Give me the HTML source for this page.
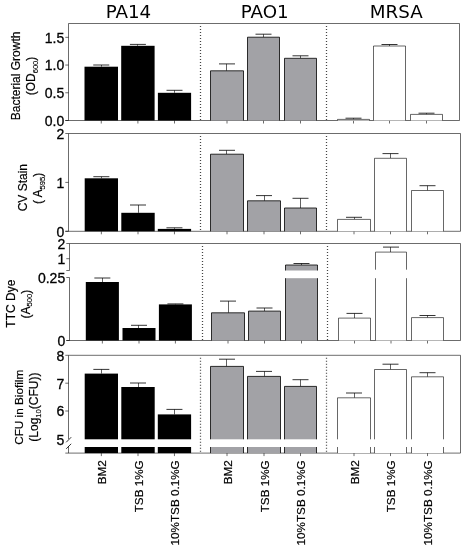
<!DOCTYPE html>
<html><head><meta charset="utf-8"><title>Figure</title>
<style>
html,body{margin:0;padding:0;background:#fff;}
body{width:468px;height:550px;overflow:hidden;font-family:"Liberation Sans",Arial,sans-serif;}
svg{display:block}
text{fill:#000}
</style></head><body>
<svg width="468" height="550" viewBox="0 0 468 550">
<rect width="468" height="550" fill="#fff"/>
<line x1="68.5" y1="23.5" x2="459.5" y2="23.5" stroke="#000" stroke-width="0.58" />
<line x1="459.5" y1="23.5" x2="459.5" y2="120.5" stroke="#000" stroke-width="0.58" />
<line x1="65.3" y1="120.5" x2="459.5" y2="120.5" stroke="#000" stroke-width="0.58" />
<line x1="68.5" y1="23.5" x2="68.5" y2="120.5" stroke="#000" stroke-width="0.58" />
<line x1="200.5" y1="26.0" x2="200.5" y2="120.5" stroke="#444" stroke-width="1.25" stroke-dasharray="1 2"/>
<line x1="326.5" y1="26.0" x2="326.5" y2="120.5" stroke="#444" stroke-width="1.25" stroke-dasharray="1 2"/>
<line x1="101.25" y1="120.5" x2="101.25" y2="123.5" stroke="#000" stroke-width="0.58" />
<line x1="137.9" y1="120.5" x2="137.9" y2="123.5" stroke="#000" stroke-width="0.58" />
<line x1="174.5" y1="120.5" x2="174.5" y2="123.5" stroke="#000" stroke-width="0.58" />
<line x1="227.0" y1="120.5" x2="227.0" y2="123.5" stroke="#000" stroke-width="0.58" />
<line x1="263.5" y1="120.5" x2="263.5" y2="123.5" stroke="#000" stroke-width="0.58" />
<line x1="300.5" y1="120.5" x2="300.5" y2="123.5" stroke="#000" stroke-width="0.58" />
<line x1="353.5" y1="120.5" x2="353.5" y2="123.5" stroke="#000" stroke-width="0.58" />
<line x1="389.5" y1="120.5" x2="389.5" y2="123.5" stroke="#000" stroke-width="0.58" />
<line x1="426.5" y1="120.5" x2="426.5" y2="123.5" stroke="#000" stroke-width="0.58" />
<text x="64.2" y="42.74" font-size="14" text-anchor="end" font-family="'Liberation Sans', Arial, sans-serif" stroke="#000" stroke-width="0.3">1.5</text>
<line x1="65.3" y1="37.34" x2="68.5" y2="37.34" stroke="#000" stroke-width="0.58" />
<text x="64.2" y="70.46000000000001" font-size="14" text-anchor="end" font-family="'Liberation Sans', Arial, sans-serif" stroke="#000" stroke-width="0.3">1.0</text>
<line x1="65.3" y1="65.06" x2="68.5" y2="65.06" stroke="#000" stroke-width="0.58" />
<text x="64.2" y="98.18" font-size="14" text-anchor="end" font-family="'Liberation Sans', Arial, sans-serif" stroke="#000" stroke-width="0.3">0.5</text>
<line x1="65.3" y1="92.78" x2="68.5" y2="92.78" stroke="#000" stroke-width="0.58" />
<text x="64.2" y="125.9" font-size="14" text-anchor="end" font-family="'Liberation Sans', Arial, sans-serif" stroke="#000" stroke-width="0.3">0.0</text>
<line x1="65.3" y1="120.5" x2="68.5" y2="120.5" stroke="#000" stroke-width="0.58" />
<line x1="101.5" y1="65" x2="101.5" y2="66.7" stroke="#000" stroke-width="0.62" />
<line x1="93.25" y1="65" x2="109.25" y2="65" stroke="#000" stroke-width="0.8" />
<rect x="84.5" y="66.7" width="33.49999999999999" height="53.8" fill="#000"/>
<line x1="137.5" y1="44.4" x2="137.5" y2="45.8" stroke="#000" stroke-width="0.62" />
<line x1="129.9" y1="44.4" x2="145.9" y2="44.4" stroke="#000" stroke-width="0.8" />
<rect x="121.2" y="45.8" width="33.4" height="74.7" fill="#000"/>
<line x1="174.5" y1="90.3" x2="174.5" y2="92.8" stroke="#000" stroke-width="0.62" />
<line x1="166.5" y1="90.3" x2="182.5" y2="90.3" stroke="#000" stroke-width="0.8" />
<rect x="157.9" y="92.8" width="33.20000000000001" height="27.700000000000003" fill="#000"/>
<line x1="226.5" y1="63.9" x2="226.5" y2="70.8" stroke="#000" stroke-width="0.62" />
<line x1="219.0" y1="63.9" x2="235.0" y2="63.9" stroke="#000" stroke-width="0.8" />
<rect x="210.5" y="70.8" width="33.0" height="49.7" fill="#a2a2a6"/>
<path d="M210.5,120.5L210.5,70.8L243.5,70.8L243.5,120.5" fill="none" stroke="#000" stroke-width="0.8"/>
<line x1="263.5" y1="34.2" x2="263.5" y2="37.2" stroke="#000" stroke-width="0.62" />
<line x1="255.5" y1="34.2" x2="271.5" y2="34.2" stroke="#000" stroke-width="0.8" />
<rect x="247.5" y="37.2" width="32.0" height="83.3" fill="#a2a2a6"/>
<path d="M247.5,120.5L247.5,37.2L279.5,37.2L279.5,120.5" fill="none" stroke="#000" stroke-width="0.8"/>
<line x1="300.5" y1="55.8" x2="300.5" y2="58.3" stroke="#000" stroke-width="0.62" />
<line x1="292.5" y1="55.8" x2="308.5" y2="55.8" stroke="#000" stroke-width="0.8" />
<rect x="284.5" y="58.3" width="32.0" height="62.2" fill="#a2a2a6"/>
<path d="M284.5,120.5L284.5,58.3L316.5,58.3L316.5,120.5" fill="none" stroke="#000" stroke-width="0.8"/>
<line x1="353.5" y1="118.2" x2="353.5" y2="119.4" stroke="#000" stroke-width="0.62" />
<line x1="345.5" y1="118.2" x2="361.5" y2="118.2" stroke="#000" stroke-width="0.8" />
<rect x="337.5" y="119.4" width="32.0" height="1.0999999999999943" fill="#fff"/>
<path d="M337.5,120.5L337.5,119.4L369.5,119.4L369.5,120.5" fill="none" stroke="#000" stroke-width="0.6"/>
<line x1="389.5" y1="44.5" x2="389.5" y2="46" stroke="#000" stroke-width="0.62" />
<line x1="381.5" y1="44.5" x2="397.5" y2="44.5" stroke="#000" stroke-width="0.8" />
<rect x="373.5" y="46" width="32.0" height="74.5" fill="#fff"/>
<path d="M373.5,120.5L373.5,46L405.5,46L405.5,120.5" fill="none" stroke="#000" stroke-width="0.6"/>
<line x1="426.5" y1="113.2" x2="426.5" y2="114.4" stroke="#000" stroke-width="0.62" />
<line x1="418.5" y1="113.2" x2="434.5" y2="113.2" stroke="#000" stroke-width="0.8" />
<rect x="410.5" y="114.4" width="32.0" height="6.099999999999994" fill="#fff"/>
<path d="M410.5,120.5L410.5,114.4L442.5,114.4L442.5,120.5" fill="none" stroke="#000" stroke-width="0.6"/>
<line x1="68.5" y1="133.5" x2="460.5" y2="133.5" stroke="#000" stroke-width="0.58" />
<line x1="460.5" y1="133.5" x2="460.5" y2="231.3" stroke="#000" stroke-width="0.58" />
<line x1="65.3" y1="231.3" x2="460.5" y2="231.3" stroke="#000" stroke-width="0.58" />
<line x1="68.5" y1="133.5" x2="68.5" y2="231.3" stroke="#000" stroke-width="0.58" />
<line x1="200.5" y1="136.0" x2="200.5" y2="231.3" stroke="#444" stroke-width="1.25" stroke-dasharray="1 2"/>
<line x1="326.5" y1="136.0" x2="326.5" y2="231.3" stroke="#444" stroke-width="1.25" stroke-dasharray="1 2"/>
<line x1="101.35" y1="231.3" x2="101.35" y2="234.3" stroke="#000" stroke-width="0.58" />
<line x1="138.0" y1="231.3" x2="138.0" y2="234.3" stroke="#000" stroke-width="0.58" />
<line x1="174.45" y1="231.3" x2="174.45" y2="234.3" stroke="#000" stroke-width="0.58" />
<line x1="227.0" y1="231.3" x2="227.0" y2="234.3" stroke="#000" stroke-width="0.58" />
<line x1="264.0" y1="231.3" x2="264.0" y2="234.3" stroke="#000" stroke-width="0.58" />
<line x1="300.5" y1="231.3" x2="300.5" y2="234.3" stroke="#000" stroke-width="0.58" />
<line x1="354.0" y1="231.3" x2="354.0" y2="234.3" stroke="#000" stroke-width="0.58" />
<line x1="390.5" y1="231.3" x2="390.5" y2="234.3" stroke="#000" stroke-width="0.58" />
<line x1="427.5" y1="231.3" x2="427.5" y2="234.3" stroke="#000" stroke-width="0.58" />
<text x="64.2" y="138.9" font-size="14" text-anchor="end" font-family="'Liberation Sans', Arial, sans-serif" stroke="#000" stroke-width="0.3">2</text>
<line x1="65.3" y1="133.5" x2="68.5" y2="133.5" stroke="#000" stroke-width="0.58" />
<text x="64.2" y="187.8" font-size="14" text-anchor="end" font-family="'Liberation Sans', Arial, sans-serif" stroke="#000" stroke-width="0.3">1</text>
<line x1="65.3" y1="182.4" x2="68.5" y2="182.4" stroke="#000" stroke-width="0.58" />
<text x="64.2" y="236.70000000000002" font-size="14" text-anchor="end" font-family="'Liberation Sans', Arial, sans-serif" stroke="#000" stroke-width="0.3">0</text>
<line x1="65.3" y1="231.3" x2="68.5" y2="231.3" stroke="#000" stroke-width="0.58" />
<line x1="101.5" y1="176.7" x2="101.5" y2="178.3" stroke="#000" stroke-width="0.62" />
<line x1="93.35" y1="176.7" x2="109.35" y2="176.7" stroke="#000" stroke-width="0.8" />
<rect x="84.7" y="178.3" width="33.29999999999999" height="53.0" fill="#000"/>
<line x1="138.5" y1="205" x2="138.5" y2="212.8" stroke="#000" stroke-width="0.62" />
<line x1="130.0" y1="205" x2="146.0" y2="205" stroke="#000" stroke-width="0.8" />
<rect x="121.3" y="212.8" width="33.4" height="18.5" fill="#000"/>
<line x1="174.5" y1="227.8" x2="174.5" y2="228.9" stroke="#000" stroke-width="0.62" />
<line x1="166.45" y1="227.8" x2="182.45" y2="227.8" stroke="#000" stroke-width="0.8" />
<rect x="157.8" y="228.9" width="33.300000000000004" height="2.4000000000000057" fill="#000"/>
<line x1="226.5" y1="150.3" x2="226.5" y2="154.2" stroke="#000" stroke-width="0.62" />
<line x1="219.0" y1="150.3" x2="235.0" y2="150.3" stroke="#000" stroke-width="0.8" />
<rect x="210.5" y="154.2" width="33.0" height="77.10000000000002" fill="#a2a2a6"/>
<path d="M210.5,231.3L210.5,154.2L243.5,154.2L243.5,231.3" fill="none" stroke="#000" stroke-width="0.8"/>
<line x1="264.5" y1="195.6" x2="264.5" y2="200.8" stroke="#000" stroke-width="0.62" />
<line x1="256.0" y1="195.6" x2="272.0" y2="195.6" stroke="#000" stroke-width="0.8" />
<rect x="247.5" y="200.8" width="33.0" height="30.5" fill="#a2a2a6"/>
<path d="M247.5,231.3L247.5,200.8L280.5,200.8L280.5,231.3" fill="none" stroke="#000" stroke-width="0.8"/>
<line x1="300.5" y1="198.3" x2="300.5" y2="208" stroke="#000" stroke-width="0.62" />
<line x1="292.5" y1="198.3" x2="308.5" y2="198.3" stroke="#000" stroke-width="0.8" />
<rect x="284.5" y="208" width="32.0" height="23.30000000000001" fill="#a2a2a6"/>
<path d="M284.5,231.3L284.5,208L316.5,208L316.5,231.3" fill="none" stroke="#000" stroke-width="0.8"/>
<line x1="354.5" y1="217.3" x2="354.5" y2="219.4" stroke="#000" stroke-width="0.62" />
<line x1="346.0" y1="217.3" x2="362.0" y2="217.3" stroke="#000" stroke-width="0.8" />
<rect x="337.5" y="219.4" width="33.0" height="11.900000000000006" fill="#fff"/>
<path d="M337.5,231.3L337.5,219.4L370.5,219.4L370.5,231.3" fill="none" stroke="#000" stroke-width="0.6"/>
<line x1="390.5" y1="153.6" x2="390.5" y2="158.3" stroke="#000" stroke-width="0.62" />
<line x1="382.5" y1="153.6" x2="398.5" y2="153.6" stroke="#000" stroke-width="0.8" />
<rect x="374.5" y="158.3" width="32.0" height="73.0" fill="#fff"/>
<path d="M374.5,231.3L374.5,158.3L406.5,158.3L406.5,231.3" fill="none" stroke="#000" stroke-width="0.6"/>
<line x1="427.5" y1="185.7" x2="427.5" y2="190.5" stroke="#000" stroke-width="0.62" />
<line x1="419.5" y1="185.7" x2="435.5" y2="185.7" stroke="#000" stroke-width="0.8" />
<rect x="411.5" y="190.5" width="32.0" height="40.80000000000001" fill="#fff"/>
<path d="M411.5,231.3L411.5,190.5L443.5,190.5L443.5,231.3" fill="none" stroke="#000" stroke-width="0.6"/>
<line x1="69.5" y1="243.5" x2="460.5" y2="243.5" stroke="#000" stroke-width="0.58" />
<line x1="460.5" y1="243.5" x2="460.5" y2="340.5" stroke="#000" stroke-width="0.58" />
<line x1="66.3" y1="340.5" x2="460.5" y2="340.5" stroke="#000" stroke-width="0.58" />
<line x1="69.5" y1="243.5" x2="69.5" y2="270.5" stroke="#000" stroke-width="0.58" />
<line x1="69.5" y1="277.5" x2="69.5" y2="340.5" stroke="#000" stroke-width="0.58" />
<line x1="202.5" y1="246.0" x2="202.5" y2="340.5" stroke="#444" stroke-width="1.25" stroke-dasharray="1 2"/>
<line x1="327.5" y1="246.0" x2="327.5" y2="340.5" stroke="#444" stroke-width="1.25" stroke-dasharray="1 2"/>
<line x1="102.35" y1="340.5" x2="102.35" y2="343.5" stroke="#000" stroke-width="0.58" />
<line x1="139.0" y1="340.5" x2="139.0" y2="343.5" stroke="#000" stroke-width="0.58" />
<line x1="175.39999999999998" y1="340.5" x2="175.39999999999998" y2="343.5" stroke="#000" stroke-width="0.58" />
<line x1="228.0" y1="340.5" x2="228.0" y2="343.5" stroke="#000" stroke-width="0.58" />
<line x1="264.5" y1="340.5" x2="264.5" y2="343.5" stroke="#000" stroke-width="0.58" />
<line x1="301.5" y1="340.5" x2="301.5" y2="343.5" stroke="#000" stroke-width="0.58" />
<line x1="354.5" y1="340.5" x2="354.5" y2="343.5" stroke="#000" stroke-width="0.58" />
<line x1="391.0" y1="340.5" x2="391.0" y2="343.5" stroke="#000" stroke-width="0.58" />
<line x1="427.5" y1="340.5" x2="427.5" y2="343.5" stroke="#000" stroke-width="0.58" />
<text x="65.2" y="248.9" font-size="14" text-anchor="end" font-family="'Liberation Sans', Arial, sans-serif" stroke="#000" stroke-width="0.3">2</text>
<line x1="66.3" y1="243.5" x2="69.5" y2="243.5" stroke="#000" stroke-width="0.58" />
<text x="65.2" y="264.09999999999997" font-size="14" text-anchor="end" font-family="'Liberation Sans', Arial, sans-serif" stroke="#000" stroke-width="0.3">1</text>
<line x1="66.3" y1="258.7" x2="69.5" y2="258.7" stroke="#000" stroke-width="0.58" />
<line x1="66.3" y1="270.5" x2="69.5" y2="270.5" stroke="#000" stroke-width="0.58" />
<text x="65.2" y="282.9" font-size="14" text-anchor="end" font-family="'Liberation Sans', Arial, sans-serif" stroke="#000" stroke-width="0.3">0.25</text>
<line x1="66.3" y1="277.5" x2="69.5" y2="277.5" stroke="#000" stroke-width="0.58" />
<text x="65.2" y="345.9" font-size="14" text-anchor="end" font-family="'Liberation Sans', Arial, sans-serif" stroke="#000" stroke-width="0.3">0</text>
<line x1="66.3" y1="340.5" x2="69.5" y2="340.5" stroke="#000" stroke-width="0.58" />
<line x1="102.5" y1="278" x2="102.5" y2="282" stroke="#000" stroke-width="0.62" />
<line x1="94.35" y1="278" x2="110.35" y2="278" stroke="#000" stroke-width="0.8" />
<rect x="85.8" y="282" width="33.1" height="58.5" fill="#000"/>
<line x1="138.5" y1="325.3" x2="138.5" y2="328" stroke="#000" stroke-width="0.62" />
<line x1="131.0" y1="325.3" x2="147.0" y2="325.3" stroke="#000" stroke-width="0.8" />
<rect x="122.5" y="328" width="33.00000000000001" height="12.5" fill="#000"/>
<line x1="175.5" y1="303.9" x2="175.5" y2="304.4" stroke="#000" stroke-width="0.62" />
<line x1="167.39999999999998" y1="303.9" x2="183.39999999999998" y2="303.9" stroke="#000" stroke-width="0.8" />
<rect x="158.9" y="304.4" width="32.99999999999999" height="36.10000000000002" fill="#000"/>
<line x1="228.5" y1="301.1" x2="228.5" y2="312.8" stroke="#000" stroke-width="0.62" />
<line x1="220.0" y1="301.1" x2="236.0" y2="301.1" stroke="#000" stroke-width="0.8" />
<rect x="211.5" y="312.8" width="33.0" height="27.69999999999999" fill="#a2a2a6"/>
<path d="M211.5,340.5L211.5,312.8L244.5,312.8L244.5,340.5" fill="none" stroke="#000" stroke-width="0.8"/>
<line x1="264.5" y1="308" x2="264.5" y2="311.1" stroke="#000" stroke-width="0.62" />
<line x1="256.5" y1="308" x2="272.5" y2="308" stroke="#000" stroke-width="0.8" />
<rect x="248.5" y="311.1" width="32.0" height="29.399999999999977" fill="#a2a2a6"/>
<path d="M248.5,340.5L248.5,311.1L280.5,311.1L280.5,340.5" fill="none" stroke="#000" stroke-width="0.8"/>
<line x1="354.5" y1="313.4" x2="354.5" y2="318.1" stroke="#000" stroke-width="0.62" />
<line x1="346.5" y1="313.4" x2="362.5" y2="313.4" stroke="#000" stroke-width="0.8" />
<rect x="338.5" y="318.1" width="32.0" height="22.399999999999977" fill="#fff"/>
<path d="M338.5,340.5L338.5,318.1L370.5,318.1L370.5,340.5" fill="none" stroke="#000" stroke-width="0.6"/>
<line x1="427.5" y1="315.5" x2="427.5" y2="317.6" stroke="#000" stroke-width="0.62" />
<line x1="419.5" y1="315.5" x2="435.5" y2="315.5" stroke="#000" stroke-width="0.8" />
<rect x="411.5" y="317.6" width="32.0" height="22.899999999999977" fill="#fff"/>
<path d="M411.5,340.5L411.5,317.6L443.5,317.6L443.5,340.5" fill="none" stroke="#000" stroke-width="0.6"/>
<rect x="285.5" y="278.2" width="32.0" height="62.30000000000001" fill="#a2a2a6"/>
<path d="M285.5,340.5L285.5,278.2M317.5,278.2L317.5,340.5" fill="none" stroke="#000" stroke-width="0.8"/>
<line x1="301.5" y1="263.5" x2="301.5" y2="265" stroke="#000" stroke-width="0.62" />
<line x1="293.5" y1="263.5" x2="309.5" y2="263.5" stroke="#000" stroke-width="0.8" />
<rect x="285.5" y="265" width="32.0" height="5.5" fill="#a2a2a6"/>
<path d="M285.5,270.5L285.5,265L317.5,265L317.5,270.5" fill="none" stroke="#000" stroke-width="0.8"/>
<rect x="375.5" y="278.2" width="31.0" height="62.30000000000001" fill="#fff"/>
<path d="M375.5,340.5L375.5,278.2M406.5,278.2L406.5,340.5" fill="none" stroke="#000" stroke-width="0.6"/>
<line x1="390.5" y1="247.1" x2="390.5" y2="252.1" stroke="#000" stroke-width="0.62" />
<line x1="383.0" y1="247.1" x2="399.0" y2="247.1" stroke="#000" stroke-width="0.8" />
<rect x="375.5" y="252.1" width="31.0" height="17.599999999999994" fill="#fff"/>
<path d="M375.5,269.7L375.5,252.1L406.5,252.1L406.5,269.7" fill="none" stroke="#000" stroke-width="0.6"/>
<line x1="68.5" y1="355.3" x2="460.5" y2="355.3" stroke="#000" stroke-width="0.58" />
<line x1="460.5" y1="355.3" x2="460.5" y2="453.1" stroke="#000" stroke-width="0.58" />
<line x1="65.3" y1="453.1" x2="460.5" y2="453.1" stroke="#000" stroke-width="0.58" />
<line x1="68.5" y1="355.3" x2="68.5" y2="439" stroke="#000" stroke-width="0.58" />
<line x1="68.5" y1="446" x2="68.5" y2="453.1" stroke="#000" stroke-width="0.58" />
<line x1="200.5" y1="357.8" x2="200.5" y2="453.1" stroke="#444" stroke-width="1.25" stroke-dasharray="1 2"/>
<line x1="326.5" y1="357.8" x2="326.5" y2="453.1" stroke="#444" stroke-width="1.25" stroke-dasharray="1 2"/>
<line x1="101.35" y1="453.1" x2="101.35" y2="456.1" stroke="#000" stroke-width="0.58" />
<line x1="138.0" y1="453.1" x2="138.0" y2="456.1" stroke="#000" stroke-width="0.58" />
<line x1="174.45" y1="453.1" x2="174.45" y2="456.1" stroke="#000" stroke-width="0.58" />
<line x1="227.0" y1="453.1" x2="227.0" y2="456.1" stroke="#000" stroke-width="0.58" />
<line x1="264.0" y1="453.1" x2="264.0" y2="456.1" stroke="#000" stroke-width="0.58" />
<line x1="300.5" y1="453.1" x2="300.5" y2="456.1" stroke="#000" stroke-width="0.58" />
<line x1="354.0" y1="453.1" x2="354.0" y2="456.1" stroke="#000" stroke-width="0.58" />
<line x1="390.5" y1="453.1" x2="390.5" y2="456.1" stroke="#000" stroke-width="0.58" />
<line x1="427.5" y1="453.1" x2="427.5" y2="456.1" stroke="#000" stroke-width="0.58" />
<text x="64.2" y="360.7" font-size="14" text-anchor="end" font-family="'Liberation Sans', Arial, sans-serif" stroke="#000" stroke-width="0.3">8</text>
<line x1="65.3" y1="355.3" x2="68.5" y2="355.3" stroke="#000" stroke-width="0.58" />
<text x="64.2" y="388.59999999999997" font-size="14" text-anchor="end" font-family="'Liberation Sans', Arial, sans-serif" stroke="#000" stroke-width="0.3">7</text>
<line x1="65.3" y1="383.2" x2="68.5" y2="383.2" stroke="#000" stroke-width="0.58" />
<text x="64.2" y="416.4" font-size="14" text-anchor="end" font-family="'Liberation Sans', Arial, sans-serif" stroke="#000" stroke-width="0.3">6</text>
<line x1="65.3" y1="411" x2="68.5" y2="411" stroke="#000" stroke-width="0.58" />
<text x="64.2" y="445.0" font-size="14" text-anchor="end" font-family="'Liberation Sans', Arial, sans-serif" stroke="#000" stroke-width="0.3">5</text>
<line x1="66.2" y1="442.3" x2="71.2" y2="437.2" stroke="#000" stroke-width="0.8" />
<line x1="66.2" y1="448.8" x2="71.2" y2="443.8" stroke="#000" stroke-width="0.8" />
<line x1="101.5" y1="369.4" x2="101.5" y2="373.6" stroke="#000" stroke-width="0.62" />
<line x1="93.35" y1="369.4" x2="109.35" y2="369.4" stroke="#000" stroke-width="0.8" />
<rect x="84.7" y="373.6" width="33.29999999999999" height="65.69999999999999" fill="#000"/>
<rect x="84.7" y="447" width="33.29999999999999" height="6.100000000000023" fill="#000"/>
<line x1="138.5" y1="383" x2="138.5" y2="387" stroke="#000" stroke-width="0.62" />
<line x1="130.0" y1="383" x2="146.0" y2="383" stroke="#000" stroke-width="0.8" />
<rect x="121.3" y="387" width="33.4" height="52.30000000000001" fill="#000"/>
<rect x="121.3" y="447" width="33.4" height="6.100000000000023" fill="#000"/>
<line x1="174.5" y1="409.4" x2="174.5" y2="414.4" stroke="#000" stroke-width="0.62" />
<line x1="166.45" y1="409.4" x2="182.45" y2="409.4" stroke="#000" stroke-width="0.8" />
<rect x="157.8" y="414.4" width="33.300000000000004" height="24.900000000000034" fill="#000"/>
<rect x="157.8" y="447" width="33.300000000000004" height="6.100000000000023" fill="#000"/>
<line x1="226.5" y1="359.2" x2="226.5" y2="366.4" stroke="#000" stroke-width="0.62" />
<line x1="219.0" y1="359.2" x2="235.0" y2="359.2" stroke="#000" stroke-width="0.8" />
<rect x="210.5" y="366.4" width="33.0" height="72.90000000000003" fill="#a2a2a6"/>
<path d="M210.5,439.3L210.5,366.4L243.5,366.4L243.5,439.3" fill="none" stroke="#000" stroke-width="0.8"/>
<rect x="210.5" y="447" width="33.0" height="6.100000000000023" fill="#a2a2a6"/>
<path d="M210.5,453.1L210.5,447M243.5,447L243.5,453.1" fill="none" stroke="#000" stroke-width="0.8"/>
<line x1="264.5" y1="371.4" x2="264.5" y2="376.4" stroke="#000" stroke-width="0.62" />
<line x1="256.0" y1="371.4" x2="272.0" y2="371.4" stroke="#000" stroke-width="0.8" />
<rect x="247.5" y="376.4" width="33.0" height="62.900000000000034" fill="#a2a2a6"/>
<path d="M247.5,439.3L247.5,376.4L280.5,376.4L280.5,439.3" fill="none" stroke="#000" stroke-width="0.8"/>
<rect x="247.5" y="447" width="33.0" height="6.100000000000023" fill="#a2a2a6"/>
<path d="M247.5,453.1L247.5,447M280.5,447L280.5,453.1" fill="none" stroke="#000" stroke-width="0.8"/>
<line x1="300.5" y1="379.7" x2="300.5" y2="386.4" stroke="#000" stroke-width="0.62" />
<line x1="292.5" y1="379.7" x2="308.5" y2="379.7" stroke="#000" stroke-width="0.8" />
<rect x="284.5" y="386.4" width="32.0" height="52.900000000000034" fill="#a2a2a6"/>
<path d="M284.5,439.3L284.5,386.4L316.5,386.4L316.5,439.3" fill="none" stroke="#000" stroke-width="0.8"/>
<rect x="284.5" y="447" width="32.0" height="6.100000000000023" fill="#a2a2a6"/>
<path d="M284.5,453.1L284.5,447M316.5,447L316.5,453.1" fill="none" stroke="#000" stroke-width="0.8"/>
<line x1="354.5" y1="393" x2="354.5" y2="397.8" stroke="#000" stroke-width="0.62" />
<line x1="346.0" y1="393" x2="362.0" y2="393" stroke="#000" stroke-width="0.8" />
<rect x="337.5" y="397.8" width="33.0" height="41.5" fill="#fff"/>
<path d="M337.5,439.3L337.5,397.8L370.5,397.8L370.5,439.3" fill="none" stroke="#000" stroke-width="0.6"/>
<rect x="337.5" y="447" width="33.0" height="6.100000000000023" fill="#fff"/>
<path d="M337.5,453.1L337.5,447M370.5,447L370.5,453.1" fill="none" stroke="#000" stroke-width="0.6"/>
<line x1="390.5" y1="364.2" x2="390.5" y2="369.5" stroke="#000" stroke-width="0.62" />
<line x1="382.5" y1="364.2" x2="398.5" y2="364.2" stroke="#000" stroke-width="0.8" />
<rect x="374.5" y="369.5" width="32.0" height="69.80000000000001" fill="#fff"/>
<path d="M374.5,439.3L374.5,369.5L406.5,369.5L406.5,439.3" fill="none" stroke="#000" stroke-width="0.6"/>
<rect x="374.5" y="447" width="32.0" height="6.100000000000023" fill="#fff"/>
<path d="M374.5,453.1L374.5,447M406.5,447L406.5,453.1" fill="none" stroke="#000" stroke-width="0.6"/>
<line x1="427.5" y1="372.7" x2="427.5" y2="376.8" stroke="#000" stroke-width="0.62" />
<line x1="419.5" y1="372.7" x2="435.5" y2="372.7" stroke="#000" stroke-width="0.8" />
<rect x="411.5" y="376.8" width="32.0" height="62.5" fill="#fff"/>
<path d="M411.5,439.3L411.5,376.8L443.5,376.8L443.5,439.3" fill="none" stroke="#000" stroke-width="0.6"/>
<rect x="411.5" y="447" width="32.0" height="6.100000000000023" fill="#fff"/>
<path d="M411.5,453.1L411.5,447M443.5,447L443.5,453.1" fill="none" stroke="#000" stroke-width="0.6"/>
<text transform="translate(128.4,17.8) scale(1.075,1)" font-size="17" text-anchor="middle" font-family="'DejaVu Sans', Verdana, sans-serif">PA14</text>
<text transform="translate(264.7,17.8) scale(1.075,1)" font-size="17" text-anchor="middle" font-family="'DejaVu Sans', Verdana, sans-serif">PAO1</text>
<text transform="translate(396.2,17.8) scale(1.075,1)" font-size="17" text-anchor="middle" font-family="'DejaVu Sans', Verdana, sans-serif">MRSA</text>
<text transform="translate(20.2,75.9) rotate(-90)" font-size="12" stroke="#000" stroke-width="0.2" text-anchor="middle" font-family="'Liberation Sans', Arial, sans-serif">Bacterial Growth</text>
<text transform="translate(35.2,76) rotate(-90)" font-size="12" stroke="#000" stroke-width="0.2" text-anchor="middle" font-family="'Liberation Sans', Arial, sans-serif">(OD<tspan font-size="7.6" dy="2.3" stroke="#000" stroke-width="0.15">600</tspan><tspan dy="-2.3">)</tspan></text>
<text transform="translate(26.6,187.7) rotate(-90)" font-size="12" stroke="#000" stroke-width="0.2" text-anchor="middle" font-family="'Liberation Sans', Arial, sans-serif">CV Stain</text>
<text transform="translate(42.4,188.4) rotate(-90)" font-size="12" stroke="#000" stroke-width="0.2" text-anchor="middle" font-family="'Liberation Sans', Arial, sans-serif">( A<tspan font-size="7.6" dy="2.3" stroke="#000" stroke-width="0.15">595</tspan><tspan dy="-2.3">)</tspan></text>
<text transform="translate(14.8,303.7) rotate(-90)" font-size="12" stroke="#000" stroke-width="0.2" text-anchor="middle" font-family="'Liberation Sans', Arial, sans-serif">TTC Dye</text>
<text transform="translate(29.7,304.2) rotate(-90)" font-size="12" stroke="#000" stroke-width="0.2" text-anchor="middle" font-family="'Liberation Sans', Arial, sans-serif">(A<tspan font-size="7.6" dy="2.3" stroke="#000" stroke-width="0.15">500</tspan><tspan dy="-2.3">)</tspan></text>
<text transform="translate(22.8,407.3) rotate(-90)" font-size="11.75" stroke="#000" stroke-width="0.2" text-anchor="middle" font-family="'Liberation Sans', Arial, sans-serif">CFU in Biofilm</text>
<text transform="translate(38.2,407.1) rotate(-90)" font-size="12" stroke="#000" stroke-width="0.2" text-anchor="middle" font-family="'Liberation Sans', Arial, sans-serif">(Log<tspan font-size="7.6" dy="2.3" stroke="#000" stroke-width="0.15">10</tspan><tspan dy="-2.3">(CFU))</tspan></text>
<text transform="translate(105.94999999999999,460.3) rotate(-90)" font-size="11.7" stroke="#000" stroke-width="0.2" text-anchor="end" font-family="'Liberation Sans', Arial, sans-serif">BM2</text>
<text transform="translate(142.6,460.3) rotate(-90)" font-size="11.7" stroke="#000" stroke-width="0.2" text-anchor="end" font-family="'Liberation Sans', Arial, sans-serif">TSB 1%G</text>
<text transform="translate(179.04999999999998,460.3) rotate(-90)" font-size="11.7" stroke="#000" stroke-width="0.2" text-anchor="end" font-family="'Liberation Sans', Arial, sans-serif">10%TSB 0.1%G</text>
<text transform="translate(231.6,460.3) rotate(-90)" font-size="11.7" stroke="#000" stroke-width="0.2" text-anchor="end" font-family="'Liberation Sans', Arial, sans-serif">BM2</text>
<text transform="translate(268.6,460.3) rotate(-90)" font-size="11.7" stroke="#000" stroke-width="0.2" text-anchor="end" font-family="'Liberation Sans', Arial, sans-serif">TSB 1%G</text>
<text transform="translate(305.1,460.3) rotate(-90)" font-size="11.7" stroke="#000" stroke-width="0.2" text-anchor="end" font-family="'Liberation Sans', Arial, sans-serif">10%TSB 0.1%G</text>
<text transform="translate(358.6,460.3) rotate(-90)" font-size="11.7" stroke="#000" stroke-width="0.2" text-anchor="end" font-family="'Liberation Sans', Arial, sans-serif">BM2</text>
<text transform="translate(395.1,460.3) rotate(-90)" font-size="11.7" stroke="#000" stroke-width="0.2" text-anchor="end" font-family="'Liberation Sans', Arial, sans-serif">TSB 1%G</text>
<text transform="translate(432.1,460.3) rotate(-90)" font-size="11.7" stroke="#000" stroke-width="0.2" text-anchor="end" font-family="'Liberation Sans', Arial, sans-serif">10%TSB 0.1%G</text>
</svg>
</body></html>
